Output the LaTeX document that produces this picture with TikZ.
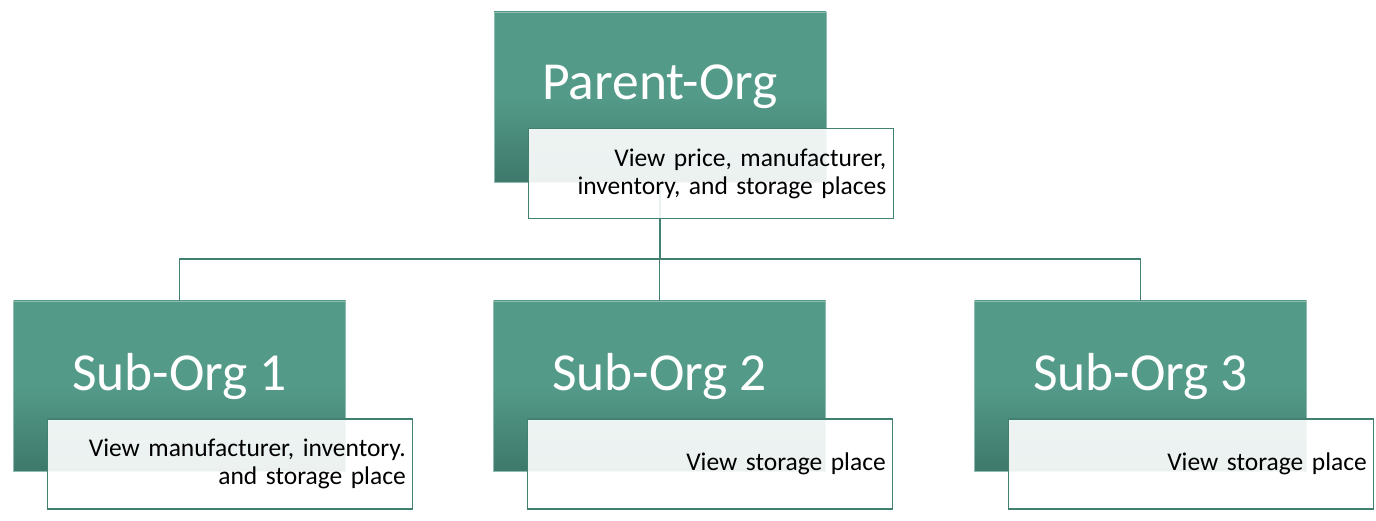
\documentclass[tikz,border=0pt]{standalone}
\usepackage{fontspec}
\setmainfont{Carlito}
\definecolor{tealtop}{RGB}{84,154,137}
\definecolor{tealbot}{RGB}{62,121,107}
\definecolor{tealline}{RGB}{66,128,113}
\tikzset{
  orgbox/.style={minimum width=332pt,minimum height=170pt,inner sep=0pt,
    top color=tealtop,bottom color=tealbot,middle color=tealtop,
    draw=tealtop!65!white,line width=0.6pt},
  orgtitle/.style={anchor=base,inner sep=0pt,text=white,font=\fontsize{53.5}{60}\selectfont},
  notebox/.style={anchor=north west,minimum width=365pt,minimum height=90pt,
    inner xsep=7pt,inner ysep=0pt,text width=351pt,align=right,
    fill=white,fill opacity=0.9,text opacity=1,draw=tealline,line width=1.2pt,
    font=\fontsize{25.5}{28}\selectfont},
  link/.style={draw=tealline,line width=1.2pt}
}
\begin{document}
\begin{tikzpicture}[x=1pt,y=-1pt]
\useasboundingbox (0,0) rectangle (1376,521);
% parent
\node[orgbox] (p) at (660,97) {};
\node[orgtitle] (pt) at ([yshift=-3pt]p.center) {Parent-Org};
% sub-orgs
\foreach \i/\x/\txt in {1/179.5/{View manufacturer, inventory.\\and storage place},
  2/659.5/{View storage place},3/1140.5/{View storage place}}{
  \node[orgbox] (s\i) at (\x,386) {};
  \node[orgtitle] (st\i) at ([yshift=-4pt]s\i.center) {Sub-Org \i};
  \node[notebox] (n\i) at ([shift={(34,-53)}]s\i.south west) {\txt};
}
% connectors
\coordinate (bus) at (660,259);
\draw[link] (p.south)--(bus);
\foreach \i in {1,2,3}{\draw[link] (bus)-|(s\i.north);}
%
\node[notebox] (pn) at ([shift={(34,-54)}]p.south west) {View price, manufacturer,\\inventory, and storage places};
\end{tikzpicture}
\end{document}
